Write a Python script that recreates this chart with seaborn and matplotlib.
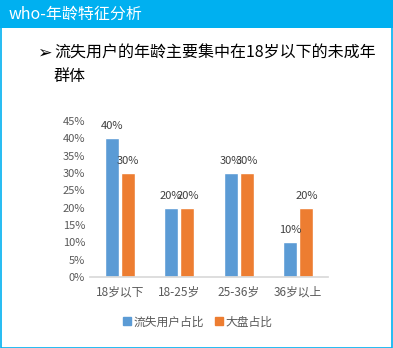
import matplotlib
matplotlib.use("Agg")
import matplotlib.pyplot as plt
import seaborn as sns
import pandas as pd
from matplotlib.patches import Rectangle
from matplotlib.lines import Line2D

categories = ["18岁以下", "18-25岁", "25-36岁", "36岁以上"]
series_names = ["流失用户占比", "大盘占比"]
lost_users = [0.40, 0.20, 0.30, 0.10]
overall = [0.30, 0.20, 0.30, 0.20]
yticks = [0, 0.05, 0.10, 0.15, 0.20, 0.25, 0.30, 0.35, 0.40, 0.45]
title = "who-年龄特征分析"
subtitle_lines = ["流失用户的年龄主要集中在18岁以下的未成年", "群体"]
colors = ["#5B9BD5", "#ED7D31"]

df = pd.DataFrame({
    "cat": categories * 2,
    "series": [series_names[0]] * 4 + [series_names[1]] * 4,
    "val": lost_users + overall,
})

sns.set_theme(style="white")
plt.rcParams["font.family"] = ["Noto Sans CJK SC", "DejaVu Sans"]

W, H = 393, 348
fig = plt.figure(figsize=(W / 100, H / 100), dpi=100)

# header bar and border
fig.add_artist(Rectangle((0, 1 - 28 / H), 1, 28 / H, transform=fig.transFigure,
                         facecolor="#00B0F0", edgecolor="none"))
fig.add_artist(Rectangle((0.5 / W, 0.5 / H), 1 - 1.5 / W, 1 - 1 / H, transform=fig.transFigure,
                         facecolor="none", edgecolor="#00B0F0", linewidth=1.2))
fig.text(9 / W, 1 - 14 / H, title, color="white", fontsize=11.5, va="center", ha="left")

# subtitle
fig.text(37 / W, 1 - 53 / H, "➢", color="black", fontsize=12.5, va="center", ha="left",
         family=["DejaVu Sans"], fontweight="bold")
fig.text(54 / W, 1 - 53 / H, subtitle_lines[0], color="black",
         fontsize=11.5, va="center", ha="left")
fig.text(54 / W, 1 - 77 / H, subtitle_lines[1], color="black", fontsize=11.5, va="center", ha="left")

ax = fig.add_axes([90 / W, 1 - 277 / H, 238 / W, 156 / H])
sns.barplot(data=df, x="cat", y="val", hue="series", palette=colors,
            width=0.55, gap=0.15, ax=ax, saturation=1, legend=False)
ax.set_ylim(0, 0.45)
ax.set_yticks(yticks)
ax.set_yticklabels([f"{int(round(t * 100))}%" for t in yticks])
ax.set_xlabel("")
ax.set_ylabel("")
ax.tick_params(axis="both", length=0, labelsize=8, colors="#595959")
ax.tick_params(axis="x", pad=6, labelsize=8.5)
for s in ["top", "right", "left"]:
    ax.spines[s].set_visible(False)
ax.spines["bottom"].set_color("#D9D9D9")
ax.set_facecolor("none")

for cont in ax.containers:
    ax.bar_label(cont, labels=[f"{int(round(v * 100))}%" for v in cont.datavalues],
                 fontsize=8, color="#404040", padding=5)

handles = [Line2D([], [], linestyle="none", marker="s", markersize=6,
                  markerfacecolor=c, markeredgecolor=c) for c in colors]
fig.legend(handles, series_names, loc="center", bbox_to_anchor=(198 / W, 1 - 322 / H), ncol=2,
           frameon=False, fontsize=8.5, handlelength=0.6,
           handletextpad=0.2, columnspacing=1.0, labelcolor="#595959")

fig.savefig("out.png", dpi=100)
